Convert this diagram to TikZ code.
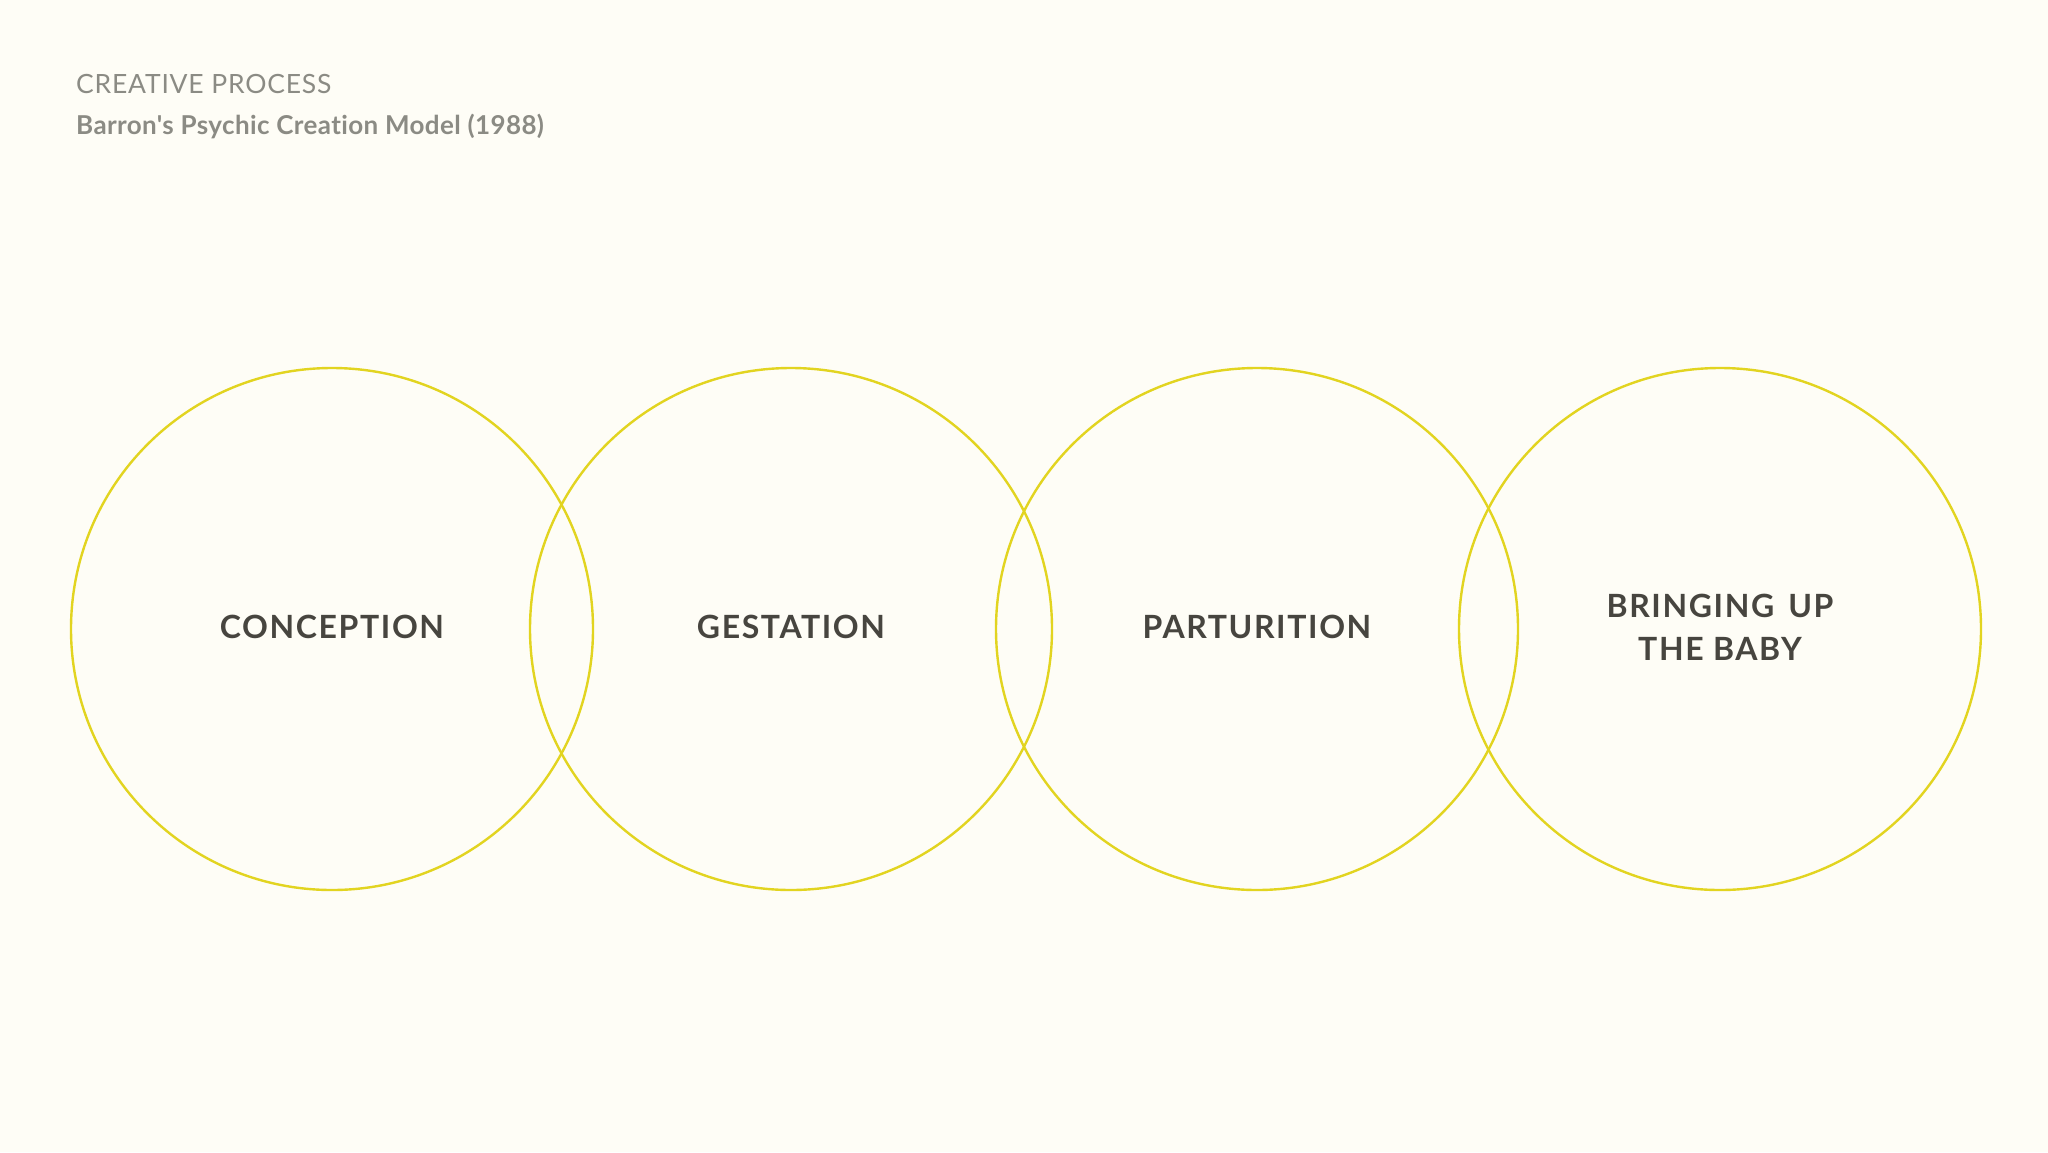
\documentclass[tikz,border=0pt]{standalone}
\usepackage{fontspec}
\setmainfont{Lato}
\newfontfamily\labelfont[LetterSpace=5]{Lato Bold}
\newfontfamily\titlefont[LetterSpace=3]{Lato}
\newfontfamily\subfont[LetterSpace=1.5,Ligatures=NoCommon]{Lato Bold}
\definecolor{bgcream}{HTML}{FEFDF6}
\definecolor{ringyellow}{HTML}{E2D420}
\definecolor{labelgray}{HTML}{47453F}
\definecolor{titlegray}{HTML}{8B8B84}
\begin{document}
\begin{tikzpicture}[x=1pt,y=-1pt]
\tikzset{
  ring/.style={circle, draw=ringyellow, line width=2.4pt, minimum size=522pt, inner sep=0pt},
  stagelabel/.style={text=labelgray, align=center, inner sep=0pt,
    font=\labelfont\fontsize{32}{43}\selectfont},
  heading/.style={text=titlegray, anchor=base west, inner sep=0pt}
}
\fill[bgcream] (0,0) rectangle (2048,1152);
\useasboundingbox (0,0) rectangle (2048,1152);

\node[ring] (c1) at (332,629) {};
\node[ring] (c2) at (791,629) {};
\node[ring] (c3) at (1257,629) {};
\node[ring] (c4) at (1720,629) {};

\node[stagelabel] (l1) at (332,627) {CONCEPTION};
\node[stagelabel] (l2) at (791,627) {GESTATION};
\node[stagelabel] (l3) at (1257,627) {PARTURITION};
\node[stagelabel] (l4) at (1720,627) {BRINGING\hspace{14pt}UP\\THE BABY};

\node[heading, font=\titlefont\fontsize{26.5}{30}\selectfont] (t1) at (76,93.5) {CREATIVE PROCESS};
\node[heading, font=\subfont\fontsize{26}{30}\selectfont] (t2) at (76,134) {Barron's Psychic Creation Model (1988)};
\end{tikzpicture}
\end{document}
